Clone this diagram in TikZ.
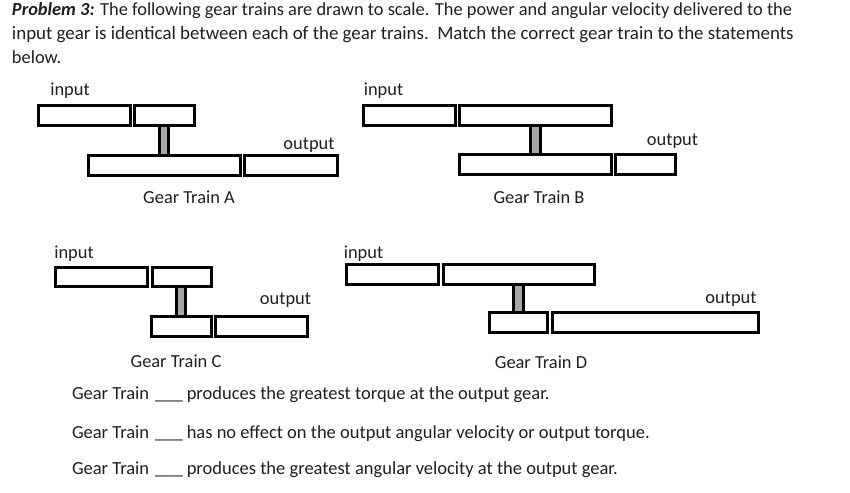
\documentclass[tikz,border=0pt]{standalone}
\usepackage{fontspec}
\setmainfont{Carlito}
\newcommand{\gbox}[6][gear]{\node[#1,minimum width={(#5-#3)*1pt},minimum height={(#6-#4)*1pt}] (#2) at ({(#3+#5)/2},{(#4+#6)/2}) {};}
\newcommand{\blankline}{\hspace{6pt}\_\_\_\hspace{4pt}}
\tikzset{
  gear/.style={draw=black,line width=3.2pt,fill=white,inner sep=0pt,outer sep=0pt},
  shaft/.style={gear,fill=black!35},
  txt/.style={anchor=base west,inner sep=0pt,outer sep=0pt,text=black!88,font=\fontsize{18.4}{21}\selectfont},
  txtb/.style={txt,font=\fontsize{18.9}{21}\selectfont},
  stmt/.style={txt,font=\fontsize{18.5}{21}\selectfont},
  lbl/.style={anchor=base,inner sep=0pt,outer sep=0pt,text=black!88,font=\fontsize{18.4}{21}\selectfont},
}
\begin{document}
\begin{tikzpicture}[x=1pt,y=-1pt]
\useasboundingbox (0,0) rectangle (850,492);
% header
\node[txt] (t1) at (12,16) {\textbf{\textit{Problem 3:}} The following gear trains are drawn to scale. The power and angular velocity delivered to the};
\node[txtb] (t2) at (12,40) {input gear is identical between each of the gear trains.\ \ Match the correct gear train to the statements};
\node[txt] (t3) at (12,64) {below.};
% Train A
\gbox[shaft]{as}{159.5}{125}{168.5}{156}
\gbox{a1}{38.5}{105.5}{130.5}{125.5}
\gbox{a2}{134.5}{105.5}{194.5}{125.5}
\gbox{a3}{88.5}{155.5}{240.5}{175.5}
\gbox{a4}{244.5}{155.5}{337.5}{175.5}
\node[lbl] (ai) at (70,95.5) {input};
\node[lbl] (ao) at (309,149.5) {output};
\node[lbl] (an) at (189,203) {Gear Train A};
% Train B
\gbox[shaft]{bs}{530.5}{125}{540.5}{155}
\gbox{b1}{363.5}{105.5}{455.5}{125.5}
\gbox{b2}{459.5}{105.5}{611.5}{125.5}
\gbox{b3}{459.5}{154.5}{611.5}{174.5}
\gbox{b4}{615.5}{154.5}{675.5}{174.5}
\node[lbl] (bi) at (383.5,95.5) {input};
\node[lbl] (bo) at (672.5,145.5) {output};
\node[lbl] (bn) at (539,203) {Gear Train B};
% Train C
\gbox[shaft]{cs}{176.5}{286}{185.5}{317}
\gbox{c1}{55.5}{267.5}{147.5}{286.5}
\gbox{c2}{152.5}{267.5}{211.5}{286.5}
\gbox{c3}{151.5}{316.5}{211.5}{336.5}
\gbox{c4}{215.5}{316.5}{307.5}{336.5}
\node[lbl] (ci) at (74,258.5) {input};
\node[lbl] (co) at (285.5,304.5) {output};
\node[lbl] (cn) at (176,367.5) {Gear Train C};
% Train D
\gbox[shaft]{ds}{513.5}{284}{523.5}{313}
\gbox{d1}{346.5}{264.5}{438.5}{284.5}
\gbox{d2}{443.5}{264.5}{594.5}{284.5}
\gbox{d3}{489.5}{312.5}{547.5}{332.5}
\gbox{d4}{552.5}{312.5}{758.5}{332.5}
\node[lbl] (di) at (363.5,258.5) {input};
\node[lbl] (do) at (731,303.5) {output};
\node[lbl] (dn) at (541,368.5) {Gear Train D};
% statements
\node[stmt] (s1) at (72,399.5) {Gear Train\blankline produces the greatest torque at the output gear.};
\node[stmt] (s2) at (72,438.5) {Gear Train\blankline has no effect on the output angular velocity or output torque.};
\node[stmt] (s3) at (72,474.5) {Gear Train\blankline produces the greatest angular velocity at the output gear.};
\end{tikzpicture}
\end{document}
